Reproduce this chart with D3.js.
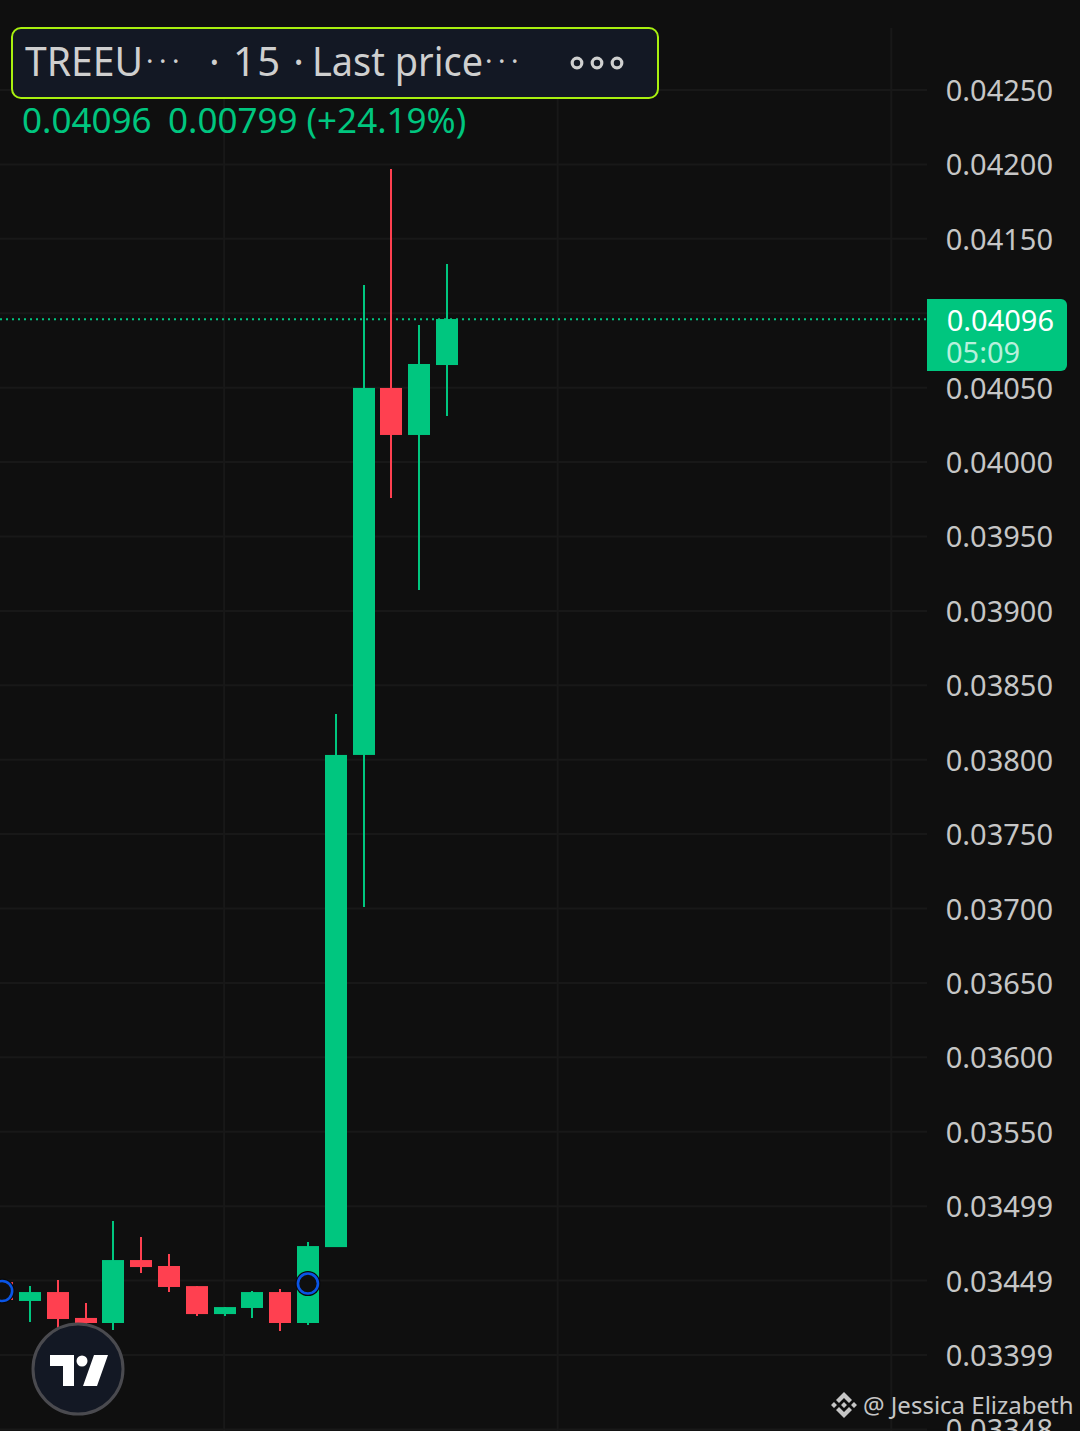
<!DOCTYPE html>
<html><head><meta charset="utf-8">
<script src="https://cdn.jsdelivr.net/npm/d3@7/dist/d3.min.js"></script>
<style>html,body{margin:0;padding:0;background:#0f0f0f}svg{display:block}text{font-family:"Noto Sans",sans-serif}</style>
</head><body><svg id="c" width="1080" height="1431"></svg>
<script>
const tickValues=[0.0425,0.042,0.0415,0.041,0.0405,0.04,0.0395,0.039,0.0385,0.038,0.0375,0.037,0.0365,0.036,0.0355,0.035,0.0345,0.034,0.0335];
const tickLabels=["0.04250","0.04200","0.04150","","0.04050","0.04000","0.03950","0.03900","0.03850","0.03800","0.03750","0.03700","0.03650","0.03600","0.03550","0.03499","0.03449","0.03399","0.03348"];
const slots=[0,1,2,3,4,5,6,7,8,9,10,11,12,13,14,15,16];
const opens =[0.034490,0.034363,0.034423,0.034249,0.034215,0.034638,0.034598,0.034463,0.034275,0.034316,0.034423,0.034215,0.034725,0.038032,0.040498,0.040182,0.040652];
const closes=[0.034370,0.034423,0.034242,0.034215,0.034638,0.034591,0.034457,0.034275,0.034322,0.034423,0.034215,0.034732,0.038032,0.040498,0.040182,0.040659,0.040961];
const highs =[0.034490,0.034463,0.034504,0.034349,0.034900,0.034793,0.034678,0.034463,0.034322,0.034430,0.034443,0.034759,0.038307,0.041190,0.041969,0.040921,0.041331];
const lows  =[0.034370,0.034222,0.034154,0.034201,0.034168,0.034551,0.034423,0.034262,0.034262,0.034249,0.034161,0.034201,0.034725,0.037010,0.039758,0.039140,0.040309];
const gridSlots=[8,20,32];
const lastPrice=0.04096;
const markers=[0,11];
const markerPrices=[0.03443,0.03448];
const up="#00c67f",down="#ff4050",grid="#181818",bg="#0f0f0f";
const y=d3.scaleLinear().domain([0.0425,0.034]).range([90,1355]);
const x=d3.scaleLinear().domain([0,32]).range([2.15,891.75]);
const svg=d3.select("#c");
svg.append("rect").attr("width",1080).attr("height",1431).attr("fill",bg);
svg.append("g").selectAll("line").data(tickValues).join("line")
 .attr("x1",0).attr("x2",927).attr("y1",d=>y(d)).attr("y2",d=>y(d)).attr("stroke",grid).attr("stroke-width",2);
svg.append("g").selectAll("line").data(gridSlots).join("line")
 .attr("x1",d=>x(d)-0.5).attr("x2",d=>x(d)-0.5).attr("y1",28).attr("y2",1431).attr("stroke",grid).attr("stroke-width",2);
svg.append("line").attr("x1",0).attr("x2",927).attr("y1",y(lastPrice)).attr("y2",y(lastPrice))
 .attr("stroke",up).attr("stroke-width",2).attr("stroke-dasharray","2 4");
const g=svg.append("g").selectAll("g").data(slots).join("g");
const col=i=>closes[i]>=opens[i]?up:down;
const left=i=>Math.round(x(i)-11);
g.append("line").attr("x1",i=>left(i)+11).attr("x2",i=>left(i)+11).attr("y1",i=>y(highs[i])).attr("y2",i=>y(lows[i])).attr("stroke",col).attr("stroke-width",2);
g.append("rect").attr("x",left).attr("width",22)
 .attr("y",i=>y(Math.max(opens[i],closes[i]))).attr("height",i=>Math.abs(y(opens[i])-y(closes[i]))).attr("fill",col);
const mk=svg.append("g").selectAll("g").data(markers).join("g");
mk.append("circle").attr("cx",i=>x(i)).attr("cy",(i,k)=>y(markerPrices[k])).attr("r",12.5).attr("fill","#0a0a0a");
mk.append("circle").attr("cx",i=>x(i)).attr("cy",(i,k)=>y(markerPrices[k])).attr("r",10)
 .attr("fill",bg).attr("stroke","#0a55e6").attr("stroke-width",2.6);
// axis labels
svg.append("g").selectAll("text").data(tickValues).join("text")
 .attr("x",1053).attr("text-anchor","end").attr("y",d=>y(d)+11)
 .attr("font-size",29).attr("fill","#c6c6c6").text((d,i)=>tickLabels[i]);
// price tag
const tagY=y(lastPrice);
svg.append("path").attr("d","M927 299H1061a6 6 0 0 1 6 6V365a6 6 0 0 1 -6 6H927Z").attr("fill",up);
svg.append("text").attr("x",1054).attr("y",tagY+11.5).attr("text-anchor","end").attr("font-size",29).attr("fill","#fff").text("0.04096");
svg.append("text").attr("x",946).attr("y",tagY+43.5).attr("font-size",29).attr("fill","#b8f0dc").text("05:09");
// header
svg.append("rect").attr("x",12).attr("y",28).attr("width",646).attr("height",70).attr("rx",9).attr("fill","#131824").attr("stroke","#a8f00f").attr("stroke-width",2);
const hdr=svg.append("g").attr("font-size",40).attr("fill","#cfcfcf");
hdr.append("text").attr("x",25).attr("y",76).attr("textLength",118).attr("lengthAdjust","spacingAndGlyphs").text("TREEU");
hdr.append("text").attr("x",146).attr("y",71).attr("font-size",28).attr("letter-spacing",5.5).text("···");
hdr.append("text").attr("x",209).attr("y",76).attr("textLength",95).attr("xml:space","preserve").text("· 15 ·");
hdr.append("text").attr("x",312).attr("y",76).attr("textLength",171).attr("lengthAdjust","spacingAndGlyphs").text("Last price");
hdr.append("text").attr("x",485).attr("y",71).attr("font-size",28).attr("letter-spacing",5.5).text("···");
svg.append("g").selectAll("circle").data([577,597,617]).join("circle")
 .attr("cx",d=>d).attr("cy",63).attr("r",4.8).attr("fill","none").attr("stroke","#cfcfcf").attr("stroke-width",3.2);
const ohlc=svg.append("g").attr("font-size",35).attr("fill",up);
ohlc.append("text").attr("x",22).attr("y",133).text("0.04096");
ohlc.append("text").attr("x",168).attr("y",133).text("0.00799 (+24.19%)");
// logo
svg.append("circle").attr("cx",78).attr("cy",1369).attr("r",45).attr("fill","#131824").attr("stroke","#4a4a4f").attr("stroke-width",3);
svg.append("path").attr("fill","#fff").attr("d","M50 1355H74V1386H63V1366H50Z M94 1355H108L97 1386H83Z");
svg.append("circle").attr("cx",82).attr("cy",1361).attr("r",5.5).attr("fill","#fff");
// watermark
svg.append("text").attr("x",863).attr("y",1414).attr("font-size",24).attr("fill","#c6c6c6").text("@ Jessica Elizabeth");
const wm=svg.append("g").attr("fill","#c6c6c6").attr("transform","translate(844,1405)");
wm.append("path").attr("d","M0 -13L8 -5L5 -2L0 -7L-5 -2L-8 -5Z M0 13L8 5L5 2L0 7L-5 2L-8 5Z M-13 0L-10 -3L-7 0L-10 3Z M13 0L10 -3L7 0L10 3Z M0 -3L3 0L0 3L-3 0Z");
</script></body></html>
